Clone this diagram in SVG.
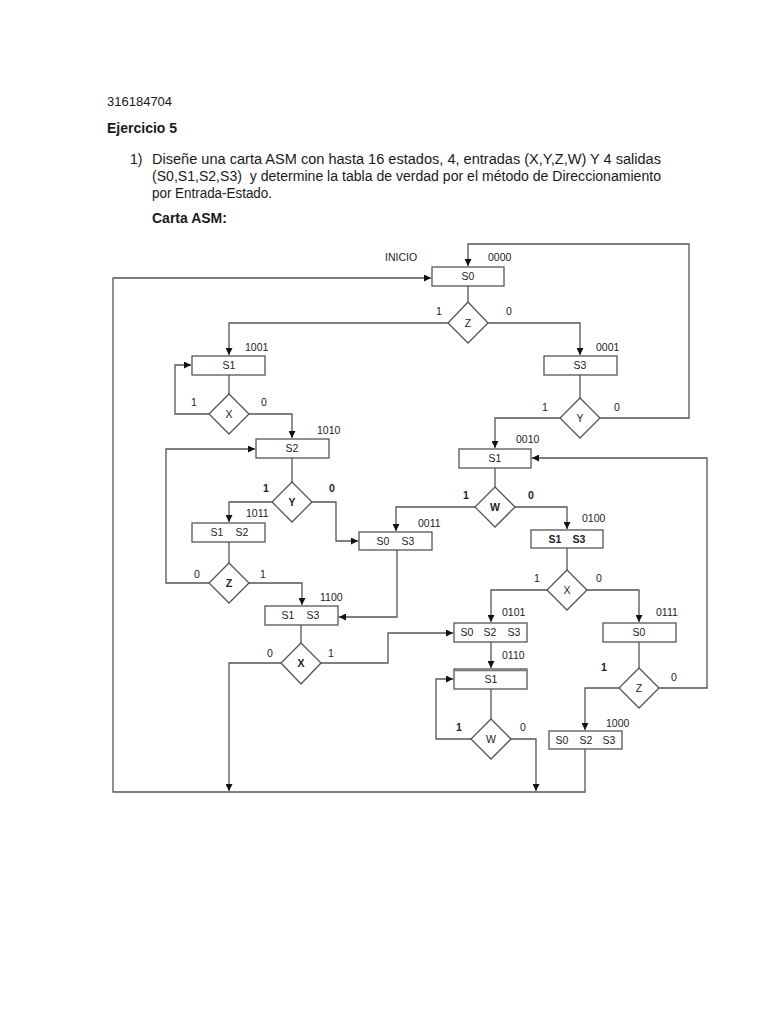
<svg xmlns="http://www.w3.org/2000/svg" width="768" height="1024" viewBox="0 0 768 1024">
<style>
.t{font-family:"Liberation Sans",Arial,sans-serif;fill:#1a1a1a}
.h{font-size:13px}
.p{font-size:14px}
.b{font-weight:bold}
.box{fill:#fff;stroke:#555;stroke-width:1.3}
.dia{fill:#fff;stroke:#555;stroke-width:1.3}
.lbl{font-family:"Liberation Sans",Arial,sans-serif;font-size:10.5px;fill:#222}
.c{text-anchor:middle}
.con{fill:none;stroke:#555;stroke-width:1.3}
</style>
<defs>
<marker id="ar" viewBox="0 0 10 10" refX="10" refY="5" markerWidth="7" markerHeight="7" markerUnits="userSpaceOnUse" orient="auto">
<path d="M0,0 L10,5 L0,10 z" fill="#111"/>
</marker>
</defs>
<rect width="768" height="1024" fill="#fff"/>
<g id="header">
<text class="t h" x="107" y="106">316184704</text>
<text class="t p b" x="107" y="133">Ejercicio 5</text>
<text class="t p" x="130" y="164">1)</text>
<text class="t p" x="152" y="164" textLength="509" lengthAdjust="spacingAndGlyphs">Diseñe una carta ASM con hasta 16 estados, 4, entradas (X,Y,Z,W) Y 4 salidas</text>
<text class="t p" x="152" y="181" textLength="509" lengthAdjust="spacingAndGlyphs" xml:space="preserve">(S0,S1,S2,S3)  y determine la tabla de verdad por el método de Direccionamiento</text>
<text class="t p" x="152" y="198" textLength="120" lengthAdjust="spacingAndGlyphs">por Entrada-Estado.</text>
<text class="t p b" x="152" y="223">Carta ASM:</text>
</g>
<g id="connectors">
<path class="con" d="M585,749 V792 H113 V278 H431" marker-end="url(#ar)"/>
<path class="con" d="M600,418 H689 V244 H468 V266" marker-end="url(#ar)"/>
<path class="con" d="M468,286 V302"/>
<path class="con" d="M448,323 H229 V355" marker-end="url(#ar)"/>
<path class="con" d="M488,323 H580 V355" marker-end="url(#ar)"/>
<path class="con" d="M229,375 V394"/>
<path class="con" d="M209,414 H175 V365 H191" marker-end="url(#ar)"/>
<path class="con" d="M249,414 H292 V438" marker-end="url(#ar)"/>
<path class="con" d="M580,375 V398"/>
<path class="con" d="M560,418 H495 V448" marker-end="url(#ar)"/>
<path class="con" d="M292,458 V482"/>
<path class="con" d="M272,502 H229 V522" marker-end="url(#ar)"/>
<path class="con" d="M312,502 H336 V541 H358" marker-end="url(#ar)"/>
<path class="con" d="M229,542 V563"/>
<path class="con" d="M209,583 H166 V449 H255" marker-end="url(#ar)"/>
<path class="con" d="M249,583 H302 V605" marker-end="url(#ar)"/>
<path class="con" d="M495,468 V487"/>
<path class="con" d="M475,507 H396 V531" marker-end="url(#ar)"/>
<path class="con" d="M515,507 H567 V529" marker-end="url(#ar)"/>
<path class="con" d="M397,550 V617 H339" marker-end="url(#ar)"/>
<path class="con" d="M567,548 V570"/>
<path class="con" d="M547,590 H491 V622" marker-end="url(#ar)"/>
<path class="con" d="M587,590 H639 V622" marker-end="url(#ar)"/>
<path class="con" d="M301,625 V643"/>
<path class="con" d="M281,663 H229 V791" marker-end="url(#ar)"/>
<path class="con" d="M321,663 H388 V633 H453" marker-end="url(#ar)"/>
<path class="con" d="M491,642 V668" marker-end="url(#ar)"/>
<path class="con" d="M491,689 V719"/>
<path class="con" d="M471,739 H436 V679 H453" marker-end="url(#ar)"/>
<path class="con" d="M511,739 H536 V791" marker-end="url(#ar)"/>
<path class="con" d="M639,642 V668"/>
<path class="con" d="M659,688 H707 V458 H532" marker-end="url(#ar)"/>
<path class="con" d="M619,688 H585 V730" marker-end="url(#ar)"/>
</g>
<g id="inicio"><text class="lbl" x="385" y="261">INICIO</text></g>
<g id="s0000">
<rect class="box" x="432" y="267" width="72" height="19"/>
<text class="lbl c" x="468" y="280">S0</text>
<text class="lbl" x="488" y="261">0000</text>
</g>
<g id="dZ1">
<path class="dia" d="M468,302 L488,323 L468,343 L448,323 z"/>
<text class="lbl c" x="468" y="327">Z</text>
<text class="lbl" x="436" y="315">1</text>
<text class="lbl" x="506" y="315">0</text>
</g>
<g id="s1001">
<rect class="box" x="192" y="356" width="73" height="19"/>
<text class="lbl c" x="229" y="369">S1</text>
<text class="lbl" x="245" y="351">1001</text>
</g>
<g id="s0001">
<rect class="box" x="544" y="356" width="73" height="19"/>
<text class="lbl c" x="580" y="369">S3</text>
<text class="lbl" x="596" y="351">0001</text>
</g>
<g id="dX1">
<path class="dia" d="M229,394 L249,414 L229,434 L209,414 z"/>
<text class="lbl c" x="229" y="418">X</text>
<text class="lbl" x="191" y="406">1</text>
<text class="lbl" x="261" y="406">0</text>
</g>
<g id="dY1">
<path class="dia" d="M580,398 L600,418 L580,438 L560,418 z"/>
<text class="lbl c" x="580" y="422">Y</text>
<text class="lbl" x="542" y="411">1</text>
<text class="lbl" x="614" y="411">0</text>
</g>
<g id="s1010">
<rect class="box" x="256" y="439" width="73" height="19"/>
<text class="lbl c" x="292" y="452">S2</text>
<text class="lbl" x="317" y="434">1010</text>
</g>
<g id="s0010">
<rect class="box" x="459" y="449" width="72" height="19"/>
<text class="lbl c" x="495" y="462">S1</text>
<text class="lbl" x="516" y="443">0010</text>
</g>
<g id="dY2">
<path class="dia" d="M292,482 L312,502 L292,522 L272,502 z"/>
<text class="lbl c b" x="292" y="506">Y</text>
<text class="lbl b" x="263" y="492">1</text>
<text class="lbl b" x="329" y="492">0</text>
</g>
<g id="dW1">
<path class="dia" d="M495,487 L515,507 L495,527 L475,507 z"/>
<text class="lbl c b" x="495" y="511">W</text>
<text class="lbl b" x="463" y="499">1</text>
<text class="lbl b" x="528" y="499">0</text>
</g>
<g id="s1011">
<rect class="box" x="192" y="523" width="73" height="19"/>
<text class="lbl c" x="217" y="536">S1</text>
<text class="lbl c" x="242" y="536">S2</text>
<text class="lbl" x="246" y="517">1011</text>
</g>
<g id="s0011">
<rect class="box" x="359" y="532" width="73" height="18"/>
<text class="lbl c" x="383" y="545">S0</text>
<text class="lbl c" x="408" y="545">S3</text>
<text class="lbl" x="418" y="527">0011</text>
</g>
<g id="s0100">
<rect class="box" x="531" y="530" width="72" height="18" stroke-width="2"/>
<text class="lbl c b" x="555" y="543">S1</text>
<text class="lbl c b" x="579" y="543">S3</text>
<text class="lbl" x="582" y="522">0100</text>
</g>
<g id="dZ2">
<path class="dia" d="M229,563 L249,583 L229,603 L209,583 z"/>
<text class="lbl c b" x="229" y="587">Z</text>
<text class="lbl" x="194" y="578">0</text>
<text class="lbl" x="260" y="578">1</text>
</g>
<g id="dX2">
<path class="dia" d="M567,570 L587,590 L567,610 L547,590 z"/>
<text class="lbl c" x="567" y="594">X</text>
<text class="lbl" x="534" y="582">1</text>
<text class="lbl" x="596" y="582">0</text>
</g>
<g id="s1100">
<rect class="box" x="265" y="606" width="73" height="19"/>
<text class="lbl c" x="288" y="619">S1</text>
<text class="lbl c" x="313" y="619">S3</text>
<text class="lbl" x="320" y="601">1100</text>
</g>
<g id="s0101">
<rect class="box" x="454" y="623" width="73" height="19"/>
<text class="lbl c" x="467" y="636">S0</text>
<text class="lbl c" x="490" y="636">S2</text>
<text class="lbl c" x="514" y="636">S3</text>
<text class="lbl" x="502" y="616">0101</text>
</g>
<g id="s0111">
<rect class="box" x="603" y="623" width="73" height="19"/>
<text class="lbl c" x="639" y="636">S0</text>
<text class="lbl" x="656" y="616">0111</text>
</g>
<g id="dX3">
<path class="dia" d="M301,643 L321,663 L301,684 L281,663 z"/>
<text class="lbl c b" x="301" y="667">X</text>
<text class="lbl" x="267" y="657">0</text>
<text class="lbl" x="328" y="657">1</text>
</g>
<g id="s0110">
<rect class="box" x="454" y="669" width="73" height="20"/>
<line x1="454" y1="670.5" x2="527" y2="670.5" stroke="#777" stroke-width="1.5"/>
<text class="lbl c" x="491" y="683">S1</text>
<text class="lbl" x="502" y="659">0110</text>
</g>
<g id="dZ3">
<path class="dia" d="M639,668 L659,688 L639,708 L619,688 z"/>
<text class="lbl c" x="639" y="692">Z</text>
<text class="lbl b" x="601" y="671">1</text>
<text class="lbl" x="671" y="681">0</text>
</g>
<g id="dW2">
<path class="dia" d="M491,719 L511,739 L491,759 L471,739 z"/>
<text class="lbl c" x="491" y="743">W</text>
<text class="lbl b" x="456" y="731">1</text>
<text class="lbl" x="520" y="731">0</text>
</g>
<g id="s1000">
<rect class="box" x="549" y="731" width="73" height="18"/>
<text class="lbl c" x="562" y="744">S0</text>
<text class="lbl c" x="586" y="744">S2</text>
<text class="lbl c" x="609" y="744">S3</text>
<text class="lbl" x="606" y="727">1000</text>
</g>
</svg>
